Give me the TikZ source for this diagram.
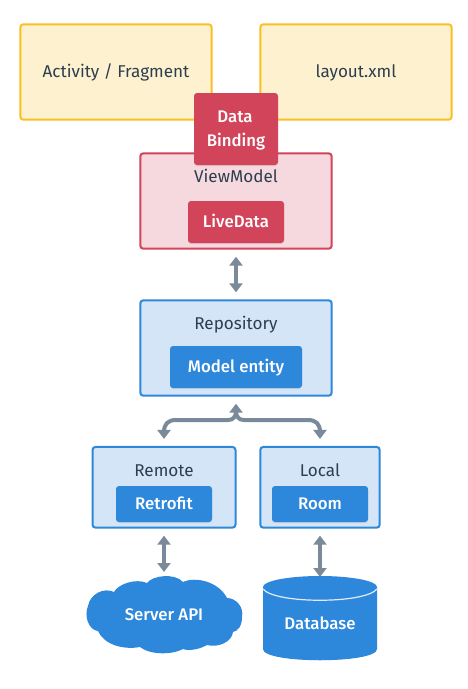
\documentclass[tikz,border=0pt]{standalone}
\usepackage{fontspec}
\setmainfont[BoldFont={Fira Sans Medium}]{Fira Sans}
\usetikzlibrary{arrows.meta,shadows}
\definecolor{txt}{HTML}{2C3E50}
\definecolor{arrowgray}{HTML}{7B8A9A}
\definecolor{yel}{HTML}{FBBF24}
\definecolor{yelfill}{HTML}{FDF1CF}
\definecolor{redd}{HTML}{D24459}
\definecolor{redfill}{HTML}{F6D9DE}
\definecolor{blu}{HTML}{2D87DB}
\definecolor{blufill}{HTML}{D3E5F6}
\tikzset{
  fixedtext/.style={text height=14pt,text depth=3pt},
  base/.style={rectangle,rounded corners=3pt,line width=2pt,inner sep=0pt,text=txt,fixedtext,font=\fontsize{17.1}{24}\selectfont},
  yelbox/.style={base,draw=yel,fill=yelfill,minimum width=191.4pt,minimum height=95.4pt},
  outerred/.style={base,draw=redd,fill=redfill,minimum width=191.4pt,minimum height=95.4pt},
  outerblue/.style={base,draw=blu,fill=blufill},
  inner/.style={rectangle,rounded corners=3pt,inner sep=0pt,text=white,fixedtext,font=\fontsize{16.8}{24}\selectfont\bfseries,drop shadow={opacity=.18,shadow xshift=0pt,shadow yshift=-1pt}},
  redin/.style={inner,fill=redd},
  bluein/.style={inner,fill=blu},
  title/.style={inner sep=0pt,text=txt,fixedtext,font=\fontsize{17.1}{24}\selectfont},
  label/.style={inner sep=0pt,text=white,fixedtext,font=\fontsize{16.8}{24}\selectfont\bfseries},
  bi/.style={draw=arrowgray,line width=4pt,{Triangle[width=13pt,length=9pt]}-{Triangle[width=13pt,length=9pt]}},
  fork/.style={draw=arrowgray,line width=4pt,-{Triangle[width=13pt,length=9pt]}},
}
\begin{document}
\begin{tikzpicture}[x=1pt,y=-1pt]
\useasboundingbox (0,0) rectangle (468,689);
\node[yelbox] (act) at (116,72) {Activity / Fragment};
\node[yelbox] (lay) at (356,72) {layout.xml};
\node[outerred] (vm) at (236,201) {};
\node[title] (vmt) at (236,177) {ViewModel};
\node[redin,minimum width=96pt,minimum height=42pt] (ld) at (236,222) {LiveData};
\node[redin,minimum width=84pt,minimum height=72pt] (db) at (236,129) {};
\node[label] (dbt1) at (235,117) {Data};
\node[label] (dbt2) at (236,141) {Binding};
\node[outerblue,minimum width=191.4pt,minimum height=95.4pt] (repo) at (236,348) {};
\node[title] (repot) at (236,324) {Repository};
\node[bluein,minimum width=132pt,minimum height=42pt] (me) at (236,367) {Model entity};
\node[outerblue,minimum width=143pt,minimum height=80.7pt] (rem) at (164,487.3) {};
\node[title] (remt) at (164,471) {Remote};
\node[bluein,minimum width=96pt,minimum height=36pt] (ret) at (164,504) {Retrofit};
\node[outerblue,minimum width=119.4pt,minimum height=80.7pt] (loc) at (320,487.3) {};
\node[title] (loct) at (320,471) {Local};
\node[bluein,minimum width=96pt,minimum height=36pt] (room) at (320,504) {Room};
% cloud
\fill[blu] (88,606)
  .. controls (90,594) and (104,587) .. (114,592)
  .. controls (118,584) and (136,578) .. (147,583)
  .. controls (153,575) and (175,573) .. (183,582)
  .. controls (196,576) and (219,582) .. (227,598)
  .. controls (236,598) and (244,607) .. (242,617)
  .. controls (242,626) and (238,631) .. (233,632)
  .. controls (232,642) and (218,648) .. (207,645)
  .. controls (198,650) and (188,651) .. (183,649)
  .. controls (172,655) and (150,655) .. (140,647)
  .. controls (124,650) and (104,645) .. (98,631)
  .. controls (88,630) and (84,615) .. (88,606) -- cycle;
\node[label] (api) at (164,615) {Server API};
% database
\fill[blu] (263,587) -- (377,587) -- (377,649)
  .. controls (377,664) and (263,664) .. (263,649) -- cycle;
\fill[blu] (320,587) ellipse [x radius=57pt,y radius=11pt];
\draw[white!85!blu,line width=1.2pt] (263,589) .. controls (275,604) and (365,604) .. (377,589);
\node[label] (dbase) at (320,624) {Database};
% connectors
\draw[bi] ([yshift=-7pt]vm.south) -- ([yshift=7pt]repo.north);
\coordinate (jn) at (236,411);
\draw[fork] (jn) -- ([yshift=-7pt]repo.south);
\draw[fork] (jn) .. controls (236,417) and (233,420) .. (228,420) -- (176,420) .. controls (168,420) and (164,424) .. (164,432) -- ([yshift=7pt]rem.north);
\draw[fork] (jn) .. controls (236,417) and (239,420) .. (244,420) -- (308,420) .. controls (316,420) and (320,424) .. (320,432) -- ([yshift=7pt]loc.north);
\draw[bi] ([yshift=-7pt]rem.south) -- (164,572);
\draw[bi] ([yshift=-7pt]loc.south) -- (320,577);
\end{tikzpicture}
\end{document}
